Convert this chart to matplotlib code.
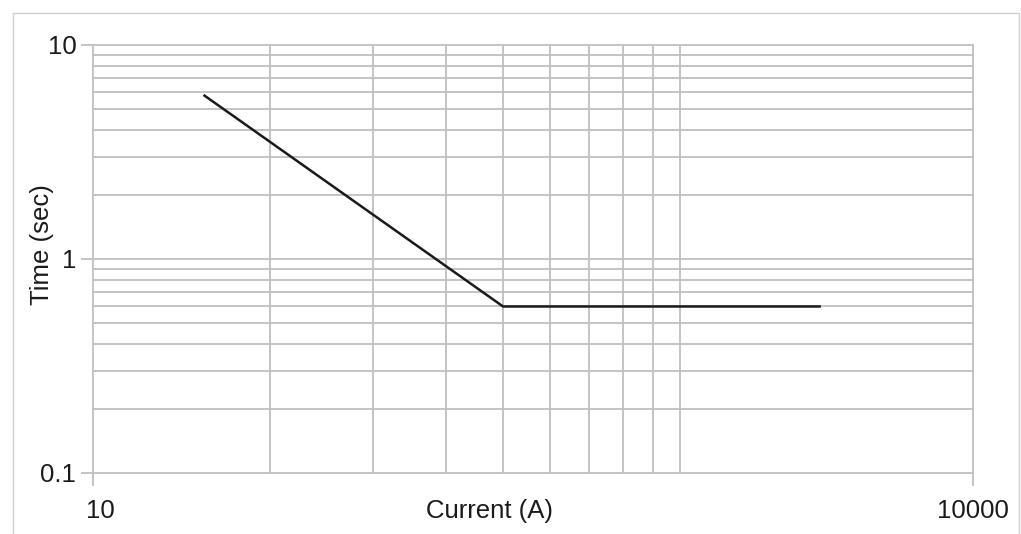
import matplotlib.pyplot as plt
from matplotlib.patches import Rectangle
from matplotlib.ticker import FixedLocator, NullFormatter
from matplotlib.transforms import ScaledTranslation

plt.rcParams['font.family'] = ['Liberation Sans', 'DejaVu Sans']

# curve
current = [24, 250, 3000]
time = [5.8, 0.6, 0.6]

# vertical grid lines as drawn in the original
x_grid = [40, 90, 160, 250, 360, 490, 640, 810, 1000]
x_ticks = [10, 10000]
x_labels = ['10', '10000']
y_ticks = [0.1, 1, 10]
y_labels = ['0.1', '1', '10']
y_grid = [k * d for d in (0.1, 1) for k in range(2, 10)] + [1]

grid_col = '#bfbfbf'

fig = plt.figure(figsize=(10.21, 5.34), dpi=100)
ax = fig.add_axes([93 / 1021, 1 - 473 / 534, 880 / 1021, 428 / 534])

ax.set_xscale('log')
ax.set_yscale('log')
ax.set_xlim(10, 10000)
ax.set_ylim(0.1, 10)

for xv in x_grid:
    ax.axvline(xv, color=grid_col, lw=1.3, zorder=1)
for yv in y_grid:
    ax.axhline(yv, color=grid_col, lw=1.3, zorder=1)

ax.plot(current, time, color='#1a1a1a', lw=1.8, zorder=3)

ax.xaxis.set_major_locator(FixedLocator(x_ticks))
ax.set_xticklabels(x_labels)
ax.yaxis.set_major_locator(FixedLocator(y_ticks))
ax.set_yticklabels(y_labels)
ax.xaxis.set_minor_formatter(NullFormatter())
ax.yaxis.set_minor_formatter(NullFormatter())
ax.tick_params(which='minor', length=0)
ax.tick_params(which='major', length=9, width=1.3, color=grid_col,
               labelsize=18.5, labelcolor='#1a1a1a')
ax.tick_params(axis='y', pad=3)
ax.tick_params(axis='x', pad=10)

# the "10" label sits a little right of its tick in the original
lbl = ax.get_xticklabels()[0]
lbl.set_transform(lbl.get_transform() + ScaledTranslation(7 / 100, 0, fig.dpi_scale_trans))

for s in ax.spines.values():
    s.set_color(grid_col)
    s.set_linewidth(1.3)

fig.text(42 / 1021, 1 - 245 / 534, 'Time (sec)', rotation=90, ha='center',
         va='center', fontsize=18.5, color='#1a1a1a')
fig.text(489 / 1021, 1 - 511 / 534, 'Current (A)', ha='center', va='center',
         fontsize=18.5, color='#1a1a1a')

fig.add_artist(Rectangle((13 / 1021, -0.05), 1006 / 1021, 1.05 - 12.5 / 534,
                         transform=fig.transFigure, fill=False,
                         edgecolor='#d0d0d0', lw=1))

fig.savefig('out.png', dpi=100)
